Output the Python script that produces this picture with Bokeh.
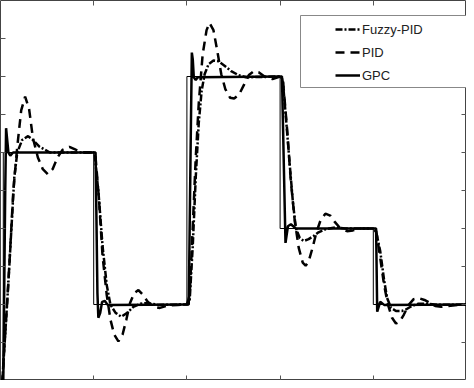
from bokeh.plotting import figure
from bokeh.models import Range1d, LinearAxis, FixedTicker, Legend, LegendItem, BoxAnnotation
from bokeh.embed import file_html
from bokeh.resources import INLINE

# ---------------- data (time in step periods, output in plant units) ----------------
ref_t = [0, 0.03, 0.03, 1.0, 1.0, 2.0, 2.0, 3.0, 3.0, 4.0, 4.0, 5.0]
ref_y = [0, 0, 6, 6, 2, 2, 8, 8, 4, 4, 2, 2]

gpc_t = [0, 0.03, 0.05, 0.06, 0.07, 0.085, 0.105, 0.135,
         1.0, 1.02, 1.04, 1.05, 1.07, 1.09, 1.12, 1.15,
         2.0, 2.02, 2.04, 2.053, 2.063, 2.074, 2.095, 2.116,
         3.0, 3.02, 3.05, 3.058, 3.084, 3.116, 3.169,
         4.0, 4.03, 4.042, 4.074, 4.116, 5.0]
gpc_y = [0, 0, 4.83, 6.64, 6.38, 6.0, 5.92, 6.0,
         6.0, 6.0, 2.3, 1.65, 1.78, 2.07, 2.09, 1.99,
         2.0, 2.0, 6.12, 8.63, 8.45, 7.98, 7.91, 7.98,
         8.0, 8.0, 4.5, 3.62, 4.06, 4.11, 4.0,
         4.0, 4.0, 1.81, 2.07, 1.99, 2.0]

fuzzy_t = [0, 0.02, 0.085, 0.148, 0.18, 0.232, 0.296, 0.348, 0.42, 0.53,
           1.0, 1.01, 1.03, 1.055, 1.095, 1.14, 1.18, 1.235, 1.295, 1.36, 1.425, 1.5, 1.58, 1.69,
           2.0, 2.03, 2.063, 2.095, 2.127, 2.158, 2.19, 2.232, 2.285, 2.338, 2.40, 2.475, 2.55, 2.633,
           3.0, 3.021, 3.032, 3.063, 3.106, 3.137, 3.169, 3.211, 3.253, 3.306, 3.359, 3.412, 3.486, 3.591, 3.697,
           4.0, 4.032, 4.074, 4.116, 4.148, 4.19, 4.243, 4.306, 4.359, 4.412, 4.485, 4.591, 4.697, 5.0]
fuzzy_y = [0, 0, 2.6, 5.35, 6.0, 6.33, 6.43, 6.33, 6.15, 6.0,
           6.0, 6.0, 5.48, 4.83, 3.54, 2.51, 1.99, 1.78, 1.68, 1.78, 1.94, 2.02, 2.04, 1.99,
           2.0, 2.12, 3.54, 5.35, 6.77, 7.62, 8.06, 8.32, 8.42, 8.40, 8.29, 8.14, 8.04, 7.98,
           8.0, 7.95, 7.8, 6.9, 5.61, 4.70, 4.01, 3.75, 3.67, 3.72, 3.80, 3.9, 3.98, 4.03, 4.0,
           4.0, 3.90, 3.41, 2.64, 2.17, 1.91, 1.83, 1.83, 1.88, 1.96, 2.02, 2.02, 1.99, 2.0]

pid_t = [0, 0.02, 0.085, 0.137, 0.179, 0.222, 0.264, 0.306, 0.348, 0.401, 0.454, 0.507, 0.559, 0.612,
         0.665, 0.739, 0.813, 0.897,
         1.0, 1.02, 1.055, 1.095, 1.14, 1.18, 1.22, 1.265, 1.31, 1.35, 1.39, 1.435, 1.48, 1.53, 1.58,
         1.645, 1.71, 1.79, 1.9,
         2.0, 2.03, 2.063, 2.095, 2.127, 2.169, 2.211, 2.243, 2.285, 2.327, 2.369, 2.412, 2.464, 2.507,
         2.559, 2.612, 2.665, 2.718, 2.77, 2.844, 2.918,
         3.0, 3.032, 3.074, 3.116, 3.158, 3.2, 3.243, 3.274, 3.306, 3.348, 3.39, 3.433, 3.486, 3.538,
         3.591, 3.644, 3.718, 3.781, 3.855,
         4.0, 4.032, 4.074, 4.116, 4.158, 4.201, 4.243, 4.285, 4.327, 4.38, 4.433, 4.485, 4.549, 4.612,
         4.665, 4.728, 4.802, 4.908, 5.0]
pid_y = [0, 0, 2.6, 4.96, 6.13, 7.11, 7.47, 7.16, 6.38, 5.87, 5.56, 5.43, 5.56, 5.87,
         6.07, 6.15, 6.07, 6.0,
         6.0, 5.87, 4.83, 3.28, 2.25, 1.6, 1.21, 1.03, 1.21, 1.6, 2.04, 2.30, 2.38, 2.25, 2.07,
         1.94, 1.91, 1.97, 1.99,
         2.0, 2.25, 4.06, 5.87, 7.29, 8.58, 9.22, 9.41, 9.22, 8.66, 8.06, 7.67, 7.44, 7.42,
         7.52, 7.78, 8.04, 8.14, 8.11, 7.98, 7.93,
         8.0, 7.88, 6.64, 5.22, 4.19, 3.49, 3.10, 3.02, 3.13, 3.49, 3.90, 4.21, 4.39, 4.34,
         4.16, 4.01, 3.93, 3.95, 4.0,
         4.0, 3.93, 3.23, 2.51, 1.99, 1.65, 1.50, 1.55, 1.73, 1.99, 2.14, 2.17, 2.12, 2.04,
         1.96, 1.94, 1.96, 1.99, 2.0]

x_ticks = [1, 2, 3, 4]
y_ticks = [1, 2, 3, 4, 5, 6, 7, 8, 9]

# ---------------- figure ----------------
W, H = 466, 380
p = figure(width=W, height=H, x_range=Range1d(0, 5), y_range=Range1d(0, 10),
           output_backend="svg", toolbar_location=None, min_border=0)
p.grid.visible = False
p.outline_line_color = "#444444"
p.outline_line_width = 1
p.background_fill_color = "white"
p.border_fill_color = "white"

p.add_layout(LinearAxis(), "above")
p.add_layout(LinearAxis(), "right")
for ax in p.xaxis:
    ax.ticker = FixedTicker(ticks=x_ticks)
    ax.major_label_overrides = {t: "" for t in x_ticks}
for ax in p.yaxis:
    ax.ticker = FixedTicker(ticks=y_ticks)
    ax.major_label_overrides = {t: "" for t in y_ticks}
for ax in p.axis:
    ax.major_tick_in = 5
    ax.major_tick_out = 0
    ax.major_tick_line_color = "#555555"
    ax.minor_tick_line_color = None
    ax.axis_line_color = None
    ax.major_label_text_font_size = "1px"
    ax.major_label_standoff = 0

r_ref = p.line(ref_t, ref_y, line_color="black", line_width=1)
r_gpc = p.line(gpc_t, gpc_y, line_color="black", line_width=2.5)
r_pid = p.line(pid_t, pid_y, line_color="black", line_width=2.5, line_dash="9 6")
r_fuzzy = p.line(fuzzy_t, fuzzy_y, line_color="black", line_width=2.5, line_dash="7 2 2 2")

box = BoxAnnotation(left=300, right=467, top=H - 15, bottom=H - 87,
                    left_units="screen", right_units="screen",
                    top_units="screen", bottom_units="screen",
                    fill_color="white", fill_alpha=1.0,
                    line_color="#888888", line_width=1, line_alpha=1.0)
p.add_layout(box)

legend = Legend(items=[LegendItem(label="Fuzzy-PID", renderers=[r_fuzzy]),
                       LegendItem(label="PID", renderers=[r_pid]),
                       LegendItem(label="GPC", renderers=[r_gpc])],
                location="top_right", margin=19, padding=0, spacing=3,
                glyph_width=25, glyph_height=20, label_height=20, label_width=85,
                label_standoff=2, border_line_color=None, background_fill_alpha=0,
                label_text_font="Liberation Sans", label_text_font_size="13px",
                label_text_color="#222222")
p.add_layout(legend)

open("out.html", "w").write(file_html(p, INLINE))
